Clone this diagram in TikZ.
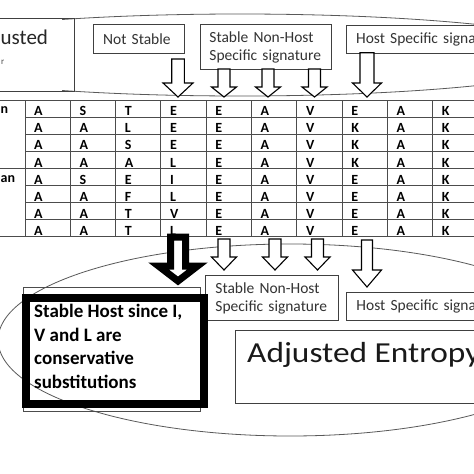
\documentclass[tikz,border=0pt]{standalone}
\usepackage{fontspec}
\setmainfont{Carlito}
\newfontfamily\widefont[FakeStretch=1.15]{Carlito}
\newcommand{\dnarrow}[7]{%
  \draw[#1] ({#2-#6},#3) -- ({#2+#6},#3) -- ({#2+#6},#4) -- ({#2+#7},#4) -- (#2,#5) -- ({#2-#7},#4) -- ({#2-#6},#4) -- cycle;}
\begin{document}
\begin{tikzpicture}[x=1pt,y=-1pt,
  box/.style={draw=black!75, line width=0.9pt, fill=white, inner xsep=10pt, inner ysep=0pt,
    align=left, anchor=north west, font=\fontsize{15.5}{18}\selectfont, text=black!80},
  plainbox/.style={draw=black!75, line width=0.9pt, fill=white, inner sep=0pt, anchor=north west},
  cell/.style={anchor=west, inner sep=0pt, font=\fontsize{14}{14}\bfseries\selectfont},
  ell/.style={draw=black!65, line width=0.8pt},
  harrow/.style={draw=black, line width=1.1pt, fill=white, line join=miter},
  gridline/.style={draw=black!70, line width=0.9pt}]
\useasboundingbox (0,0) rectangle (474,474);
\fill[white] (0,0) rectangle (474,474);

% ---------- top part ----------
\draw[ell] (240,55) ellipse [x radius=355pt, y radius=41pt];
\fill[white] (-6,18) rectangle (62,91);
\draw[black!75, line width=0.9pt] (-6,18) rectangle (74,91);
\node[anchor=base west, inner sep=0pt, font=\fontsize{21}{21}\selectfont, text=black!85] (tltext) at (0.5,44) {usted};
\node[anchor=base west, inner sep=0pt, font=\fontsize{9}{9}\selectfont, text=black!70] (tlfrag) at (1,64) {r};

\node[box, text width=71.3pt, minimum height=29pt] (notstable) at (92.7,24) {Not Stable};
\node[box, text width=113pt, minimum height=45pt, inner xsep=9pt] (nonhosttop) at (200,24) {Stable Non-Host\\Specific signature};
\node[box, text width=160pt, minimum height=27.7pt] (hosttop) at (345.7,25) {Host Specific signature};

\dnarrow{harrow}{178}{59}{83}{97}{6.3}{15}
\dnarrow{harrow}{224}{69}{87}{97}{6}{12.5}
\dnarrow{harrow}{268}{69}{87}{97}{6}{12.5}
\dnarrow{harrow}{314.5}{69}{87}{97}{6}{12.5}
\dnarrow{harrow}{367}{52.7}{83}{97}{7}{14.5}

% ---------- table ----------
\foreach \k in {1,2,3,5,6,7} \draw[gridline] (25,{100+17.1*\k}) -- (474,{100+17.1*\k});
\draw[gridline] (0,100) -- (474,100);
\draw[gridline] (0,168.4) -- (474,168.4);
\draw[gridline] (0,236.8) -- (474,236.8);
\foreach \k in {0,...,9} \draw[gridline] ({25+45.3*\k},100) -- ({25+45.3*\k},236.8);

\node[cell, anchor=base west] (lab1) at (0.5,113.5) {n};
\node[cell, anchor=base west] (lab2) at (0.5,182) {an};

\foreach \row [count=\r from 0] in {%
  {A,S,T,E,E,A,V,E,A,K},
  {A,A,L,E,E,A,V,K,A,K},
  {A,A,S,E,E,A,V,K,A,K},
  {A,A,A,L,E,A,V,K,A,K},
  {A,S,E,I,E,A,V,E,A,K},
  {A,A,F,L,E,A,V,E,A,K},
  {A,A,T,V,E,A,V,E,A,K},
  {A,A,T,L,E,A,V,E,A,K}} {
  \foreach \l [count=\c from 0] in \row {
    \node[cell] (c\r-\c) at ({34+45.3*\c},{111.2+17.1*\r}) {\l};
  }
}

% ---------- bottom part ----------
\draw[ell] (290,340) ellipse [x radius=292pt, y radius=96pt];

\node[box, text width=113pt, minimum height=45pt] (nonhostbot) at (205,275) {Stable Non-Host\\Specific signature};
\node[box, text width=160pt, minimum height=28pt] (hostbot) at (346,292) {Host Specific signature};
\node[plainbox, minimum width=285pt, minimum height=73pt] (adjbox) at (235,330) {};
\node[anchor=base west, inner sep=0pt, font=\widefont\fontsize{29}{29}\selectfont, text=black!90] (adjtext) at (247,362) {Adjusted Entropy};

\node[draw=black!70, line width=0.8pt, minimum width=177pt, minimum height=124pt, inner sep=0pt, anchor=north west] (thinbox) at (23,287) {};
\node[draw=black, line width=8pt, minimum width=178pt, minimum height=106pt, inner sep=0pt, anchor=north west] (boldbox) at (22,294) {};
\node[anchor=north west, inner sep=0pt, align=left, font=\fontsize{19}{23.5}\bfseries\selectfont] (boldtext) at (34,304) {Stable Host since I,\\V and L are\\conservative\\substitutions};

\dnarrow{draw=black, line width=7pt, fill=white, line join=miter}{178}{237}{266}{281}{7.5}{19.5}
\dnarrow{harrow}{224}{239}{257}{270}{6}{12.5}
\dnarrow{harrow}{275}{239}{257}{270}{6}{12.5}
\dnarrow{harrow}{317.5}{239}{257}{270}{6}{12.5}
\dnarrow{harrow}{367}{240}{270}{287}{5.5}{14.5}
\end{tikzpicture}
\end{document}
